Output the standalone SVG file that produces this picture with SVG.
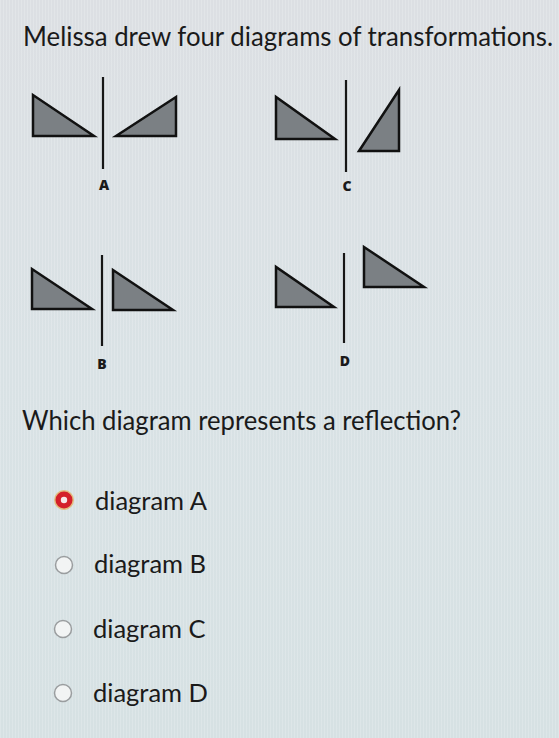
<svg xmlns="http://www.w3.org/2000/svg" width="559" height="738" viewBox="0 0 559 738">
<defs>
<linearGradient id="bg" x1="0" y1="0" x2="0" y2="1">
<stop offset="0" stop-color="#dcdfe3"/>
<stop offset="0.5" stop-color="#d9e2e5"/>
<stop offset="1" stop-color="#d6e1e3"/>
</linearGradient>
<pattern id="stripes" width="3" height="10" patternUnits="userSpaceOnUse">
<rect x="0" y="0" width="1" height="10" fill="#ffffff" fill-opacity="0.18"/>
</pattern>
</defs>
<style>
.tri{fill:#7b8084;stroke:#111;stroke-width:2.5;stroke-linejoin:miter}
.axis{stroke:#161616;stroke-width:2.2}
.lbl{font-family:"Open Sans","DejaVu Sans",sans-serif;font-weight:800;font-size:14px;fill:#1a1a1a;text-anchor:middle}
.txt{font-family:Lato,"Open Sans",sans-serif;fill:#1a1a1a}
.radio{fill:#f2f4f4;stroke:#9a9d9f;stroke-width:1.5}
</style>
<rect width="559" height="738" fill="url(#bg)"/>
<rect width="559" height="738" fill="url(#stripes)"/>
<text class="txt" x="23" y="46" font-size="26" textLength="530" lengthAdjust="spacingAndGlyphs">Melissa drew four diagrams of transformations.</text>
<g id="diagramA">
<polygon class="tri" points="33,95 33,136 94,136"/>
<polygon class="tri" points="116,136 176,97 176,136"/>
<line class="axis" x1="103" y1="77" x2="103" y2="169"/>
<text class="lbl" x="104" y="190">A</text>
</g>
<g id="diagramC">
<polygon class="tri" points="276,97 276,139 335,139"/>
<polygon class="tri" points="359,151 399,90 399,151"/>
<line class="axis" x1="346" y1="80" x2="346" y2="172"/>
<text class="lbl" x="347" y="191">C</text>
</g>
<g id="diagramB">
<polygon class="tri" points="32,269 32,309 92,309"/>
<polygon class="tri" points="113,270 113,310 173,310"/>
<line class="axis" x1="102" y1="255" x2="102" y2="346"/>
<text class="lbl" x="102" y="369">B</text>
</g>
<g id="diagramD">
<polygon class="tri" points="276,267 276,307 334,307"/>
<polygon class="tri" points="364,247 364,287 424,287"/>
<line class="axis" x1="344" y1="253" x2="344" y2="343"/>
<text class="lbl" x="345" y="366">D</text>
</g>
<text class="txt" x="22" y="430" font-size="26" textLength="439" lengthAdjust="spacingAndGlyphs">Which diagram represents a reflection?</text>
<g id="optionA">
<circle cx="64" cy="500" r="10" fill="#e8a33a" fill-opacity="0.6"/>
<circle cx="64" cy="500" r="8.5" fill="#d4202a"/>
<circle cx="64" cy="500" r="3.2" fill="#f6e8e8"/>
<text class="txt" x="95" y="510" font-size="25.5">diagram A</text>
</g>
<g id="optionB">
<circle class="radio" cx="64" cy="565" r="8.5"/>
<text class="txt" x="94" y="573" font-size="25.5">diagram B</text>
</g>
<g id="optionC">
<circle class="radio" cx="63" cy="629" r="8.5"/>
<text class="txt" x="93" y="638" font-size="25.5">diagram C</text>
</g>
<g id="optionD">
<circle class="radio" cx="63" cy="693" r="8.5"/>
<text class="txt" x="93" y="702" font-size="25.5">diagram D</text>
</g>
</svg>
